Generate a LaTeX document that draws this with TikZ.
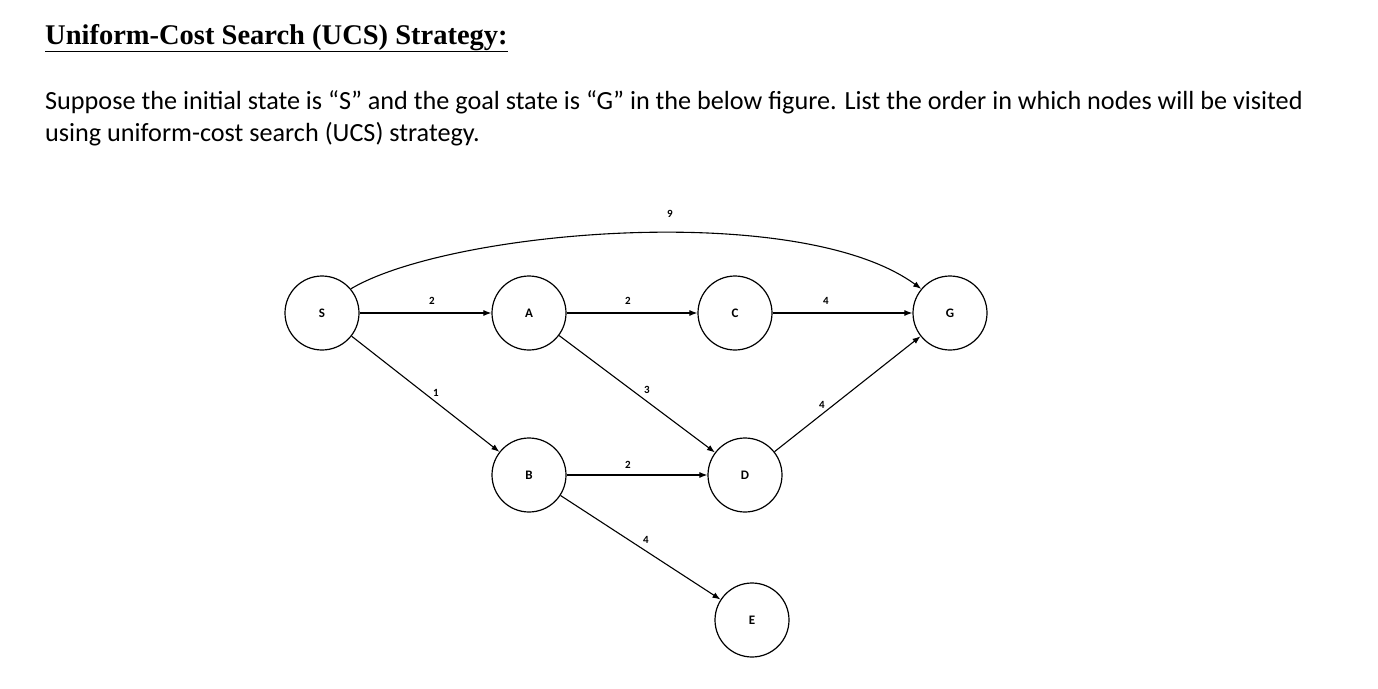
\documentclass[tikz,border=0pt]{standalone}
\usepackage{fontspec}
\setmainfont{Carlito}
\newfontfamily\titlefont{Liberation Serif}
\usetikzlibrary{arrows.meta}
\begin{document}
\begin{tikzpicture}[x=1pt,y=-1pt,
  st/.style={circle,draw,line width=1.2pt,minimum size=74pt,inner sep=0pt,font=\fontsize{13}{13}\selectfont\bfseries},
  ed/.style={line width=1.1pt,-{Latex[length=8pt,width=6pt]}},
  wl/.style={font=\fontsize{11}{11}\selectfont\bfseries}]
\useasboundingbox (0,0) rectangle (1378,688);
\node[anchor=base west,inner sep=0pt,font=\titlefont\fontsize{28.5}{28.5}\selectfont\bfseries] (title) at (45,44) {\underline{Uniform-Cost Search (UCS) Strategy:}};
\node[anchor=base west,font=\fontsize{26.2}{26.2}\selectfont,inner sep=0pt] (l1) at (45,109) {Suppose the initial state is “S” and the goal state is “G” in the below figure. List the order in which nodes will be visited};
\node[anchor=base west,font=\fontsize{26.2}{26.2}\selectfont,inner sep=0pt] (l2) at (45,141) {using uniform-cost search (UCS) strategy.};
\node[st] (S) at (322,313) {S};
\node[st] (A) at (529,313) {A};
\node[st] (C) at (735,313) {C};
\node[st] (G) at (950,313) {G};
\node[st] (B) at (529,475) {B};
\node[st] (D) at (745,475) {D};
\node[st] (E) at (752,620) {E};
\draw[ed] (S) -- (A);
\draw[ed] (A) -- (C);
\draw[ed] (C) -- (G);
\draw[ed] (S) -- (B);
\draw[ed] (A) -- (D);
\draw[ed] (B) -- (D);
\draw[ed] (B) -- (E);
\draw[ed] (D) -- (G);
\draw[ed] (S.40) .. controls (450,230) and (800,200) .. (G.140);
\node[wl] (w1) at (432,301) {2};
\node[wl] (w2) at (628,301) {2};
\node[wl] (w3) at (826,301) {4};
\node[wl] (w4) at (436,393) {1};
\node[wl] (w5) at (647,390) {3};
\node[wl] (w6) at (822,405) {4};
\node[wl] (w7) at (628,465) {2};
\node[wl] (w8) at (646,540) {4};
\node[wl] (w9) at (670,214) {9};
\end{tikzpicture}
\end{document}
